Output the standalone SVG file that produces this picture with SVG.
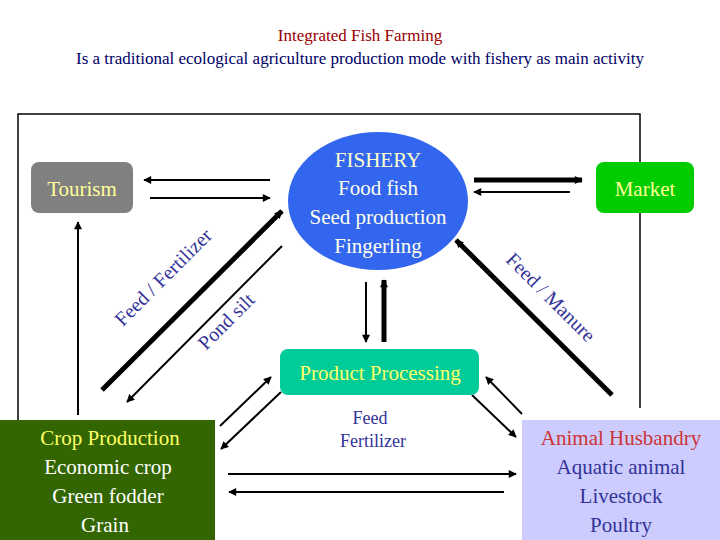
<svg xmlns="http://www.w3.org/2000/svg" width="720" height="540" viewBox="0 0 720 540">
<defs>
<marker id="ah" viewBox="0 0 10 10" refX="9" refY="5" markerWidth="4" markerHeight="4" orient="auto" markerUnits="userSpaceOnUse"><path d="M0,0 L10,5 L0,10 z" fill="#000"/></marker>
<marker id="a" viewBox="0 0 10 10" refX="9" refY="5" markerWidth="9" markerHeight="8" orient="auto" markerUnits="userSpaceOnUse"><path d="M0,0 L10,5 L0,10 z" fill="#000"/></marker>
</defs>
<style>
text{font-family:"Liberation Serif","Times New Roman",serif}
.t{stroke:#000;stroke-width:2;fill:none}
.k{stroke:#000;stroke-width:5;fill:none}
.lab{font-size:20px;fill:#333399;text-anchor:middle}
.n{font-size:21px;text-anchor:middle}
</style>
<rect width="720" height="540" fill="#fff"/>
<text x="360" y="41" text-anchor="middle" font-size="17" fill="#990000">Integrated Fish Farming</text>
<text x="360" y="64" text-anchor="middle" font-size="17" fill="#000066">Is a traditional ecological agriculture production mode with fishery as main activity</text>
<path d="M18,420 V114 H640 V408" fill="none" stroke="#000" stroke-width="1.5"/>
<g id="connectors">
<line class="t" x1="270" y1="180" x2="144" y2="180" marker-end="url(#a)"/>
<line class="t" x1="150" y1="198" x2="270" y2="198" marker-end="url(#a)"/>
<line class="t" x1="78" y1="415" x2="78" y2="222" marker-end="url(#a)"/>
<line class="k" x1="474" y1="180" x2="582" y2="180" marker-end="url(#a)"/>
<line class="t" x1="570" y1="192" x2="474" y2="192" marker-end="url(#a)"/>
<line class="t" x1="366" y1="282" x2="366" y2="342" marker-end="url(#a)"/>
<line class="k" x1="384" y1="342" x2="384" y2="280" marker-end="url(#a)"/>
<line class="k" x1="102" y1="390" x2="282" y2="211" marker-end="url(#a)"/>
<line class="t" x1="282" y1="246" x2="127" y2="402" marker-end="url(#a)"/>
<line class="k" x1="612" y1="395" x2="456" y2="240" marker-end="url(#a)"/>
<line class="t" x1="220" y1="426" x2="271" y2="377" marker-end="url(#a)"/>
<line class="t" x1="281" y1="392" x2="221" y2="449" marker-end="url(#a)"/>
<line class="t" x1="472" y1="395" x2="516" y2="437" marker-end="url(#a)"/>
<line class="t" x1="522" y1="414" x2="486" y2="377" marker-end="url(#a)"/>
<line class="t" x1="228" y1="474" x2="516" y2="474" marker-end="url(#a)"/>
<line class="t" x1="504" y1="492" x2="229" y2="492" marker-end="url(#a)"/>
<text class="lab" transform="translate(168,282) rotate(-45)">Feed / Fertilizer</text>
<text class="lab" transform="translate(231,326) rotate(-45)">Pond silt</text>
<text class="lab" transform="translate(546,302) rotate(45)">Feed / Manure</text>
<text x="370" y="424" font-size="18" fill="#333399" text-anchor="middle">Feed</text>
<text x="373" y="447" font-size="18" fill="#333399" text-anchor="middle">Fertilizer</text>
</g>
<g id="tourism"><rect x="31" y="162" width="102" height="51" rx="8" fill="#808080"/><text class="n" x="82" y="196" fill="#ffff99">Tourism</text></g>
<g id="fishery"><ellipse cx="378" cy="201" rx="90" ry="69" fill="#3366ee"/>
<text class="n" x="378" y="167" fill="#ffffcc">FISHERY</text>
<text class="n" x="378" y="195" fill="#ffffee">Food fish</text>
<text class="n" x="378" y="224" fill="#ffffee">Seed production</text>
<text class="n" x="378" y="253" fill="#ffffee">Fingerling</text></g>
<g id="market"><rect x="596" y="162" width="98" height="51" rx="8" fill="#00cc00"/><text class="n" x="645" y="196" fill="#ffff99">Market</text></g>
<g id="processing"><rect x="280" y="349" width="199" height="46" rx="8" fill="#00cc99"/><text class="n" x="380" y="380" fill="#ffff66">Product Processing</text></g>
<g id="crop"><rect x="0" y="420" width="215" height="120" fill="#336600"/>
<text class="n" x="110" y="445" fill="#ffff66">Crop Production</text>
<text class="n" x="108" y="474" fill="#fff">Economic crop</text>
<text class="n" x="108" y="503" fill="#fff">Green fodder</text>
<text class="n" x="105" y="532" fill="#fff">Grain</text></g>
<g id="animal"><rect x="522" y="420" width="198" height="120" fill="#ccccff"/>
<text class="n" x="621" y="445" fill="#cc3333">Animal Husbandry</text>
<text class="n" x="621" y="474" fill="#333399">Aquatic animal</text>
<text class="n" x="621" y="503" fill="#333399">Livestock</text>
<text class="n" x="621" y="532" fill="#333399">Poultry</text></g>
</svg>
